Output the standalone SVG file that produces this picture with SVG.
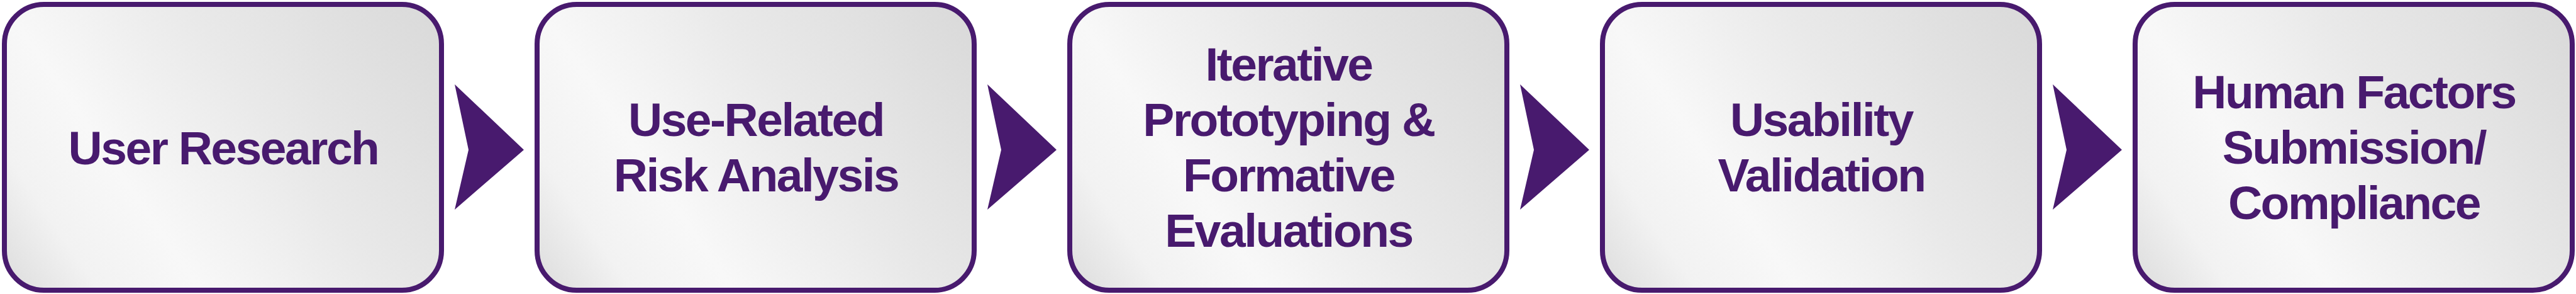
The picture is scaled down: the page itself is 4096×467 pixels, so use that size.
<svg xmlns="http://www.w3.org/2000/svg" width="4096" height="467" viewBox="0 0 4096 467">
<defs>
<linearGradient id="fillGrad" x1="1" y1="0" x2="-0.206" y2="0.543">
<stop offset="0" stop-color="#d9d9d9"/>
<stop offset="0.4" stop-color="#e9e9e9"/>
<stop offset="0.69" stop-color="#f8f8f8"/>
<stop offset="0.85" stop-color="#f2f2f2"/>
<stop offset="1" stop-color="#dcdcdc"/>
</linearGradient>
<style>
.box{fill:url(#fillGrad);stroke:#481a6e;stroke-width:8}
.lbl{font-family:"Liberation Sans",Arial,sans-serif;font-weight:bold;font-size:75px;fill:#481a6e;text-anchor:middle;letter-spacing:-2.5px}
.arrow{fill:#481a6e}
</style>
</defs>
<g id="node1">
<rect class="box" x="7" y="7" width="695" height="454" rx="63" ry="63"/>
<text class="lbl" x="355" y="261">User Research</text>
</g>
<g id="node2">
<rect class="box" x="854" y="7" width="695" height="454" rx="63" ry="63"/>
<text class="lbl" x="1202" y="216">Use-Related</text>
<text class="lbl" x="1202" y="304">Risk Analysis</text>
</g>
<g id="node3">
<rect class="box" x="1701" y="7" width="695" height="454" rx="63" ry="63"/>
<text class="lbl" x="2049" y="128">Iterative</text>
<text class="lbl" x="2049" y="216">Prototyping &amp;</text>
<text class="lbl" x="2049" y="304">Formative</text>
<text class="lbl" x="2049" y="392">Evaluations</text>
</g>
<g id="node4">
<rect class="box" x="2548" y="7" width="695" height="454" rx="63" ry="63"/>
<text class="lbl" x="2896" y="216">Usability</text>
<text class="lbl" x="2896" y="304">Validation</text>
</g>
<g id="node5">
<rect class="box" x="3395" y="7" width="695" height="454" rx="63" ry="63"/>
<text class="lbl" x="3743" y="172">Human Factors</text>
<text class="lbl" x="3743" y="260">Submission/</text>
<text class="lbl" x="3743" y="348">Compliance</text>
</g>
<g id="connectors">
<polygon class="arrow" points="723,134 833,238 723,333 745,238"/>
<polygon class="arrow" points="1570,134 1680,238 1570,333 1592,238"/>
<polygon class="arrow" points="2417,134 2527,238 2417,333 2439,238"/>
<polygon class="arrow" points="3264,134 3374,238 3264,333 3286,238"/>
</g>
</svg>
